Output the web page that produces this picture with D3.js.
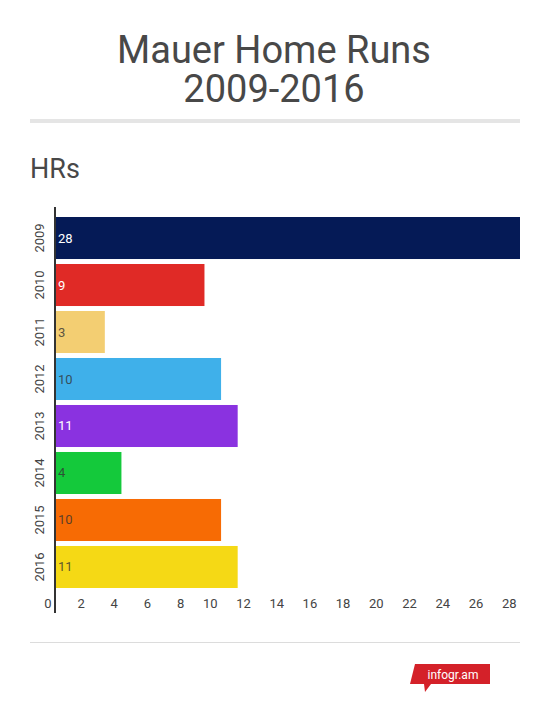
<!DOCTYPE html>
<html><head><meta charset="utf-8">
<script src="https://cdn.jsdelivr.net/npm/d3@7"></script>
<style>body{margin:0;background:#fff}svg{display:block}</style>
</head><body>
<script>
const years = ["2009","2010","2011","2012","2013","2014","2015","2016"];
const homeRuns = [28, 9, 3, 10, 11, 4, 10, 11];
const barColors = ["#051a56","#e02a26","#f3ce72","#3fb0ea","#8a32e0","#14c93b","#f76b04","#f5d915"];
const labelColors = ["#ffffff","#ffffff","#333333","#333333","#ffffff","#333333","#333333","#333333"];
const xTicks = [0,2,4,6,8,10,12,14,16,18,20,22,24,26,28];
const titleLines = ["Mauer Home Runs", "2009-2016"];

const W = 550, H = 717;
const svg = d3.select("body").append("svg").attr("width", W).attr("height", H);
const font = "Roboto, 'Open Sans', sans-serif";

// Title (one text element, two lines)
const title = svg.append("text").attr("text-anchor","middle")
  .attr("font-family", font).attr("font-size", 38).attr("fill", "#484848");
title.selectAll("tspan").data(titleLines).join("tspan")
  .attr("x", 274).attr("y", (d,i) => 63 + i * 39).text(d => d);
svg.append("rect").attr("x", 30).attr("y", 119).attr("width", 490).attr("height", 4).attr("fill", "#e5e5e5");

svg.append("text").attr("x", 30).attr("y", 178).attr("font-family", font)
  .attr("font-size", 27).attr("fill", "#484848").text("HRs");

const x = d3.scaleLinear().domain([0, 28]).range([55, 520]);
const y = d3.scaleBand().domain(years).range([217, 588]).paddingInner(0.106).paddingOuter(0);

const g = svg.append("g");
g.selectAll("rect.bar").data(years).join("rect").attr("class","bar")
  .attr("x", x(0)).attr("y", d => y(d))
  .attr("width", (d,i) => x(homeRuns[i]) - x(0))
  .attr("height", y.bandwidth())
  .attr("fill", (d,i) => barColors[i]);

g.selectAll("text.val").data(years).join("text").attr("class","val")
  .attr("x", x(0) + 3).attr("y", d => y(d) + y.bandwidth()/2 + 4.5)
  .attr("font-family", font).attr("font-size", 13)
  .attr("fill", (d,i) => labelColors[i])
  .attr("fill-opacity", (d,i) => labelColors[i] === "#ffffff" ? 1 : 0.8)
  .text((d,i) => homeRuns[i]);

// Year labels (rotated)
g.selectAll("text.yr").data(years).join("text").attr("class","yr")
  .attr("transform", d => `translate(44,${y(d) + y.bandwidth()/2}) rotate(-90)`)
  .attr("text-anchor","middle")
  .attr("font-family", font).attr("font-size", 13).attr("fill", "#444")
  .text(d => d);

// Axis line
svg.append("line").attr("x1", 55).attr("x2", 55).attr("y1", 207).attr("y2", 613)
  .attr("stroke", "#333").attr("stroke-width", 2);

// X tick labels
const xAxis = d3.axisBottom(x).tickValues(xTicks).tickSize(0).tickPadding(0);
const ax = svg.append("g").attr("transform", "translate(0,599)").call(xAxis);
ax.select(".domain").remove();
ax.selectAll("text").attr("font-family", font).attr("font-size", 13).attr("fill", "#444")
  .attr("text-anchor", "end").attr("dx", -4).attr("dy", "0.71em");

// Bottom rule
svg.append("rect").attr("x", 30).attr("y", 642).attr("width", 490).attr("height", 1).attr("fill", "#dcdcdc");

// Logo
const logo = svg.append("g");
logo.append("path").attr("d", "M415,664 L490,664 L490,684 L431,684 L425,692 L424,684 L410,684 Z").attr("fill", "#d42129");
logo.append("text").attr("x", 453).attr("y", 678.5).attr("text-anchor","middle")
  .attr("font-family", font).attr("font-size", 12).attr("fill", "#fff").text("infogr.am");
</script>
</body></html>
